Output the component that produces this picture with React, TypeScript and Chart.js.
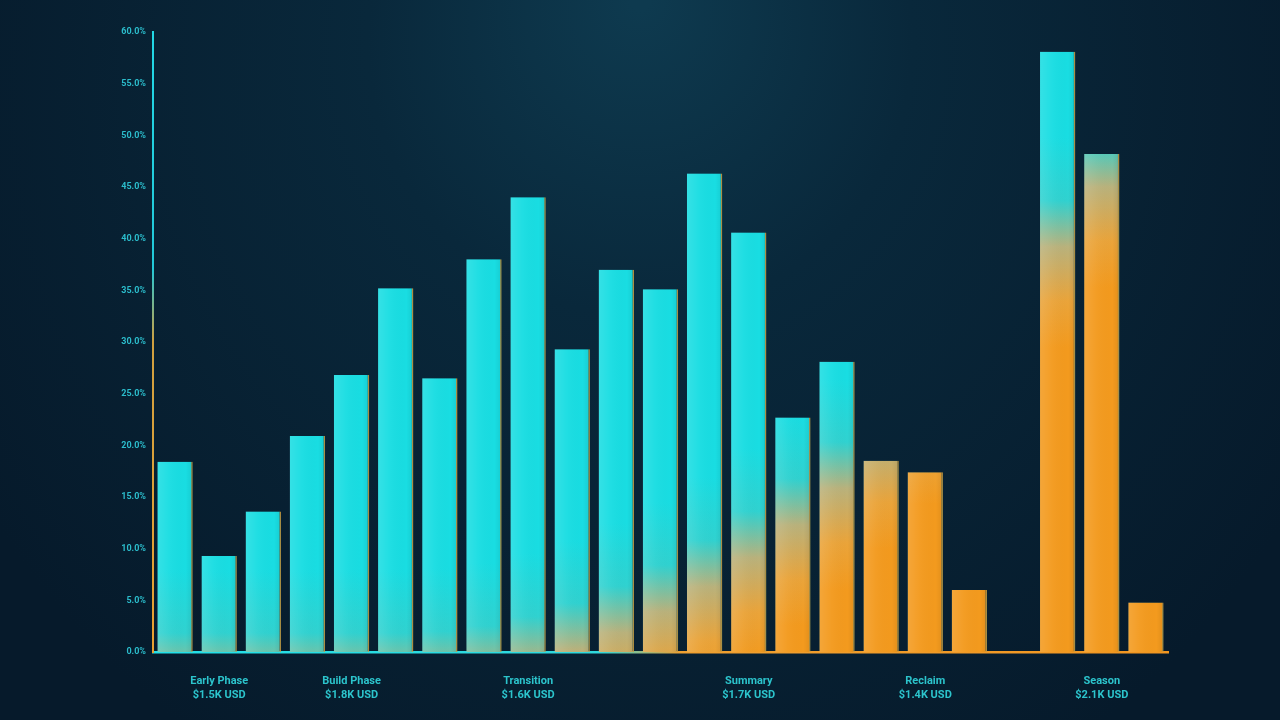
import React, { useEffect, useRef } from "react";
import { Chart, registerables } from "chart.js";

Chart.register(...registerables);

const categories: string[] = [
  "C01", "C02", "C03", "C04", "C05", "C06", "C07", "C08", "C09", "C10", "C11", "C12",
  "C13", "C14", "C15", "C16", "C17", "C18", "C19", "C20", "C21", "C22", "C23",
];

const values: (number | null)[] = [
  18.4, 9.3, 13.6, 20.9, 26.8, 35.2, 26.5, 38.0, 44.0, 29.3, 37.0, 35.1,
  46.3, 40.6, 22.7, 28.1, 18.5, 17.4, 6.0, null, 58.1, 48.2, 4.8,
];

const groupLabelIndex: number[] = [1, 4, 8, 13, 17, 21];
const groupLabels: string[][] = [
  ["Early Phase", "$1.5K USD"],
  ["Build Phase", "$1.8K USD"],
  ["Transition", "$1.6K USD"],
  ["Summary", "$1.7K USD"],
  ["Reclaim", "$1.4K USD"],
  ["Season", "$2.1K USD"],
];

const yMax = 60;
const yStep = 5;

const CYAN = "#19dde2";
const CYAN2 = "#30d2d0";
const TAN = "#b9b27c";
const ORANGE1 = "#eaa43a";
const ORANGE = "#f39a1e";

export default function App() {
  const ref = useRef<HTMLCanvasElement | null>(null);

  useEffect(() => {
    const canvas = ref.current;
    if (!canvas) return;
    document.body.style.background = "#062236";
    const ctx = canvas.getContext("2d") as CanvasRenderingContext2D;

    // per-bar vertical blend: the cyan→orange transition rises towards the right
    const barColor = (context: any) => {
      const chart = context.chart;
      const area = chart.chartArea;
      const xs = chart.scales && chart.scales.x;
      if (!area || !xs) return CYAN;
      const px = xs.getPixelForValue(context.dataIndex);
      const rel = Math.max(0, px - (area.left + 247));
      const mid = area.bottom + 28 - 0.001 * rel * rel;
      const g = ctx.createLinearGradient(0, mid - 110, 0, mid + 100);
      g.addColorStop(0, CYAN);
      g.addColorStop(0.3, CYAN2);
      g.addColorStop(0.52, TAN);
      g.addColorStop(0.78, ORANGE1);
      g.addColorStop(1, ORANGE);
      return g;
    };

    const yAxisGrad = ctx.createLinearGradient(0, 32, 0, 652);
    yAxisGrad.addColorStop(0, "#22d8e6");
    yAxisGrad.addColorStop(0.38, "#22c8d8");
    yAxisGrad.addColorStop(0.5, "#d0a040");
    yAxisGrad.addColorStop(1, "#e8a030");

    const xAxisGrad = ctx.createLinearGradient(153, 0, 1168, 0);
    xAxisGrad.addColorStop(0, "#22e0e8");
    xAxisGrad.addColorStop(0.44, "#30d8dc");
    xAxisGrad.addColorStop(0.52, "#f0a030");
    xAxisGrad.addColorStop(1, "#f29620");

    const bgPlugin = {
      id: "bg",
      beforeDraw(chart: any) {
        const c = chart.ctx as CanvasRenderingContext2D;
        const w = chart.width;
        const h = chart.height;
        c.save();
        c.fillStyle = "#061c2e";
        c.fillRect(0, 0, w, h);
        const rg = c.createRadialGradient(640, 0, 10, 640, 120, 760);
        rg.addColorStop(0, "#0e3a4f");
        rg.addColorStop(0.35, "#09283b");
        rg.addColorStop(1, "#061a2b");
        c.fillStyle = rg;
        c.fillRect(0, 0, w, h);
        c.restore();
      },
      beforeDatasetsDraw(chart: any) {
        const c = chart.ctx as CanvasRenderingContext2D;
        c.save();
        c.shadowColor = "rgba(30, 210, 225, 0.3)";
        c.shadowBlur = 12;
      },
      afterDatasetsDraw(chart: any) {
        const c = chart.ctx as CanvasRenderingContext2D;
        c.restore();
        const meta = chart.getDatasetMeta(0);
        c.save();
        meta.data.forEach((el: any, i: number) => {
          if (values[i] == null) return;
          const props = el.getProps(["x", "y", "base", "width"], true);
          const left = props.x - props.width / 2;
          const g = c.createLinearGradient(left, 0, left + props.width, 0);
          g.addColorStop(0, "rgba(255,255,255,0.12)");
          g.addColorStop(0.35, "rgba(255,255,255,0.03)");
          g.addColorStop(0.8, "rgba(0,0,0,0.0)");
          g.addColorStop(1, "rgba(0,0,0,0.08)");
          c.fillStyle = g;
          c.fillRect(left, props.y, props.width, props.base - props.y);
        });
        c.restore();
      },
    };

    const chart = new Chart(canvas, {
      type: "bar",
      data: {
        labels: categories,
        datasets: [
          {
            data: values as any,
            backgroundColor: barColor,
            borderColor: "rgba(240, 165, 50, 0.85)",
            borderWidth: { top: 0, left: 0, bottom: 0, right: 1.5 } as any,
            borderSkipped: false,
            barPercentage: 0.8,
            categoryPercentage: 1.0,
          },
        ],
      },
      options: {
        responsive: false,
        animation: false,
        layout: { padding: { left: 0, right: 112, top: 32, bottom: 0 } },
        plugins: {
          legend: { display: false },
          tooltip: { enabled: false },
        },
        scales: {
          x: {
            grid: { display: false, drawTicks: false },
            border: { display: true, color: xAxisGrad as any, width: 2.5 },
            ticks: {
              autoSkip: false,
              maxRotation: 0,
              padding: 22,
              color: "#2cc4cc",
              font: { family: "Roboto", size: 11, weight: "bold" as any, lineHeight: 1.3 },
              callback: (_v: any, i: number) => {
                const k = groupLabelIndex.indexOf(i);
                return k >= 0 ? groupLabels[k] : "";
              },
            },
            afterFit: (scale: any) => {
              scale.height = 68;
            },
          },
          y: {
            min: 0,
            max: yMax,
            grid: { display: false, drawTicks: false },
            border: { display: true, color: yAxisGrad as any, width: 2 },
            ticks: {
              stepSize: yStep,
              padding: 7,
              color: "#2bbccb",
              font: { family: "Roboto", size: 9, weight: "bold" as any },
              callback: (v: any) => `${Number(v).toFixed(1)}%`,
            },
            afterFit: (scale: any) => {
              scale.width = 153;
            },
          },
        },
      },
      plugins: [bgPlugin],
    });

    return () => chart.destroy();
  }, []);

  return (
    <canvas
      ref={ref}
      width={1280}
      height={720}
      style={{ position: "fixed", left: 0, top: 0, width: 1280, height: 720, display: "block" }}
    />
  );
}
